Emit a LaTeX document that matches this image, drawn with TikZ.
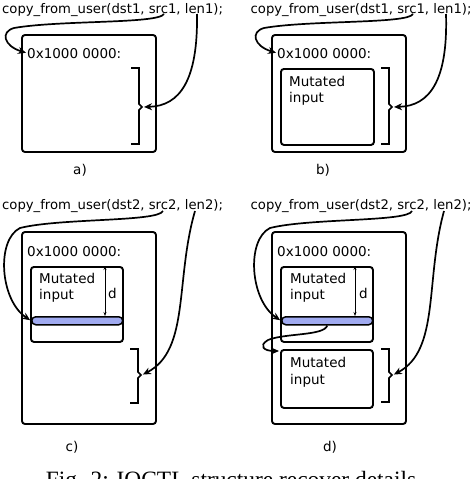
\documentclass[tikz,border=0pt]{standalone}
\usepackage{fontspec}
\setmainfont{DejaVu Sans}
\newfontfamily\capfont{Liberation Serif}
\usetikzlibrary{arrows.meta}
\definecolor{barblue}{RGB}{160,170,240}

\begin{document}
\begin{tikzpicture}[x=1pt, y=-1pt,
    every node/.style={inner sep=0pt, font=\fontsize{13.5}{16}\selectfont},
    call/.style={anchor=base west, font=\fontsize{13.2}{16}\selectfont},
    memory/.style={line width=1.9pt, rounded corners=3pt},
    chunk/.style={draw, line width=1.9pt, rounded corners=3pt, anchor=north west},
    bar/.style={draw, line width=1.5pt, rounded corners=4pt, fill=barblue, anchor=north west,
        minimum width=91pt, minimum height=8pt},
    ptr/.style={line width=1.7pt, -{Stealth[length=8pt, width=7pt, inset=2.5pt]}, shorten >=1pt},
    dim/.style={line width=1pt, {Stealth[length=4pt, width=3pt]}-{Stealth[length=4pt, width=3pt]}},
    bracket/.style={line width=1.7pt}]
    \useasboundingbox (0,0) rectangle (474,479);

    % panel a
    \node[call] (callA) at (2,13) {copy\_from\_user(dst1, src1, len1);};
    \coordinate (srcA) at (164,14);
    \coordinate (lenA) at (197,14);
    \draw[memory] (22,35) rectangle (156,152);
    \node[anchor=base west] (addrA) at (27,58) {0x1000 0000:};
    \draw[bracket] (131,68) -- (139,68) -- (139,104) -- (142,107) -- (139,110) -- (139,144) -- (131,144);
    \coordinate (tipA) at (143,107);
    \draw[ptr] (srcA) .. controls (158,24) and (60,20) .. (14,28) .. controls (0,32) and (4,46) .. (addrA.west);
    \draw[ptr] (lenA) .. controls (198,80) and (180,106) .. (tipA);
    \node (labA) at (80,170) {a)};

    % panel b
    \begin{scope}[xshift=250pt]
        \node[call] (callB) at (0.5,13) {copy\_from\_user(dst1, src1, len1);};
        \coordinate (srcB) at (163,14);
        \coordinate (lenB) at (196,14);
        \draw[memory] (22,35) rectangle (156,152);
        \node[anchor=base west] (addrB) at (27,58) {0x1000 0000:};
        \node[chunk, minimum width=93pt, minimum height=76pt] (chunkB) at (30,68) {};
        \node[anchor=base west] (mutB) at (39,86) {Mutated};
        \node[anchor=base west] (inpB) at (39,102) {input};
        \draw[bracket] (131,68) -- (139,68) -- (139,104) -- (142,107) -- (139,110) -- (139,144) -- (131,144);
        \coordinate (tipB) at (143,107);
        \draw[ptr] (srcB) .. controls (158,24) and (60,20) .. (14,28) .. controls (0,32) and (4,46) .. (addrB.west);
        \draw[ptr] (lenB) .. controls (198,80) and (180,106) .. (tipB);
        \node (labB) at (73,170) {b)};
    \end{scope}

    % panel c
    \node[call] (callC) at (2,209) {copy\_from\_user(dst2, src2, len2);};
    \coordinate (srcC) at (163,211);
    \coordinate (lenC) at (195,211);
    \draw[memory] (22,232) rectangle (156,424);
    \node[anchor=base west] (addrC) at (27,256) {0x1000 0000:};
    \node[chunk, minimum width=92pt, minimum height=75pt] (chunkC) at (30,266) {};
    \node[anchor=base west] (mutC) at (39,283) {Mutated};
    \node[anchor=base west] (inpC) at (39,299) {input};
    \node[bar] (barC) at (31,316) {};
    \draw[dim] (105,266) -- (105,316);
    \node[anchor=base west] (dC) at (108,298) {d};
    \draw[bracket] (130,349) -- (138,349) -- (138,372) -- (141,375) -- (138,378) -- (138,403) -- (130,403);
    \coordinate (tipC) at (142,375);
    \draw[ptr] (srcC) .. controls (158,222) and (60,218) .. (20,228) .. controls (-4,240) and (0,300) .. (barC.west);
    \draw[ptr] (lenC) .. controls (175,280) and (190,350) .. (tipC);
    \node (labC) at (72,447) {c)};

    % panel d
    \begin{scope}[xshift=250pt]
        \node[call] (callD) at (0.5,209) {copy\_from\_user(dst2, src2, len2);};
        \coordinate (srcD) at (162,211);
        \coordinate (lenD) at (194,211);
        \draw[memory] (22,232) rectangle (156,424);
        \node[anchor=base west] (addrD) at (27,256) {0x1000 0000:};
        \node[chunk, minimum width=92pt, minimum height=75pt] (chunkD) at (30,266) {};
        \node[anchor=base west] (mutD) at (40,283) {Mutated};
        \node[anchor=base west] (inpD) at (40,299) {input};
        \node[bar] (barD) at (31,316) {};
        \draw[dim] (105,266) -- (105,316);
        \node[anchor=base west] (dD) at (109,298) {d};
        \node[chunk, minimum width=92pt, minimum height=58pt] (copyD) at (30,349) {};
        \node[anchor=base west] (mutD2) at (40,367) {Mutated};
        \node[anchor=base west] (inpD2) at (40,384) {input};
        \draw[bracket] (131,349) -- (139,349) -- (139,372) -- (142,375) -- (139,378) -- (139,402) -- (131,402);
        \coordinate (tipD) at (143,375);
        \coordinate (hopD) at (30,351);
        \draw[ptr] (srcD) .. controls (158,222) and (60,218) .. (20,228) .. controls (-4,240) and (0,300) .. (barD.west);
        \draw[ptr] (lenD) .. controls (175,280) and (190,350) .. (tipD);
        \draw[ptr] (barD.south) .. controls (74,336) and (35,333) .. (18,340) .. controls (8,346) and (14,351) .. (hopD);
        \node (labD) at (80,447) {d)};
    \end{scope}

    % caption, cut by the page edge
    \node[font=\capfont\fontsize{23.4}{28}\selectfont, anchor=base] (caption) at (231,487.5)
        {Fig. 2: IOCTL structure recover details};
\end{tikzpicture}
\end{document}
